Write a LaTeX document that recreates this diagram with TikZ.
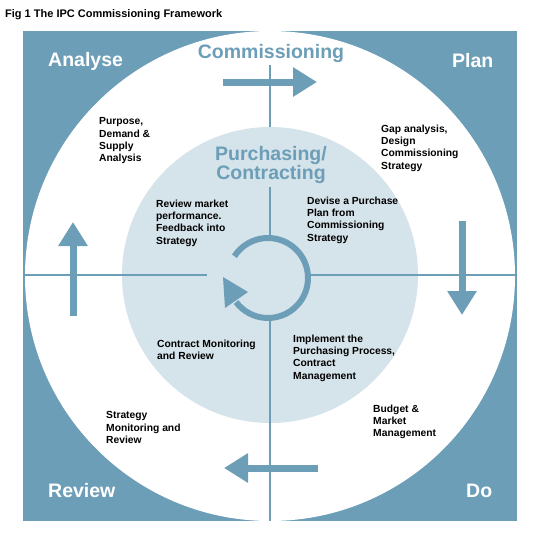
\documentclass[tikz,border=0pt]{standalone}
\usepackage{fontspec}
\setmainfont{Liberation Sans}
\usetikzlibrary{arrows.meta}

\definecolor{ipcblue}{RGB}{108,158,184}
\definecolor{ipclight}{RGB}{213,227,234}

\tikzset{
	phase/.style={text=white,font=\fontsize{19.5}{20}\selectfont\bfseries,inner sep=0pt,anchor=base west},
	heading/.style={text=ipcblue,font=\fontsize{19.5}{18}\selectfont\bfseries,inner sep=0pt,align=center,anchor=north},
	note/.style={text=black,font=\fontsize{10.3}{12.4}\selectfont\bfseries,inner sep=0pt,align=left,anchor=north west},
	axis/.style={draw=ipcblue,line width=2pt},
	bigarrow/.style={draw=ipcblue,line width=7pt,-{Triangle[length=24pt,width=28pt]}},
}

\begin{document}
\begin{tikzpicture}[x=1pt,y=-1pt]
	\useasboundingbox[fill=white] (0,0) rectangle (534,536);
	\coordinate (c) at (270,276);
	\coordinate (ring) at (268,278);
	\fill[ipcblue] (23,31) rectangle (517,521);
	\fill[white] (c) circle (245);
	\fill[ipclight] (270,275) circle (148);

	\draw[axis] (270,65)--(270,127);
	\draw[axis] (270,187)--(270,235);
	\draw[axis] (270,321)--(270,521);
	\draw[axis] (25,275)--(207,275);
	\draw[axis] (311,275)--(516,275);

	\draw[ipcblue,line width=6pt] (ring) ++(-147:40) arc[start angle=-147,end angle=143,radius=40];
	\fill[ipcblue] (223,277)--(248,292)--(225,308)--cycle;

	\coordinate (a1) at (223,82);
	\coordinate (b1) at (317,82);
	\coordinate (a2) at (462,221);
	\coordinate (b2) at (462,315);
	\coordinate (a3) at (318,468);
	\coordinate (b3) at (224,468);
	\coordinate (a4) at (73,316);
	\coordinate (b4) at (73,222);
	\draw[bigarrow] (a1)--(b1);
	\draw[bigarrow] (a2)--(b2);
	\draw[bigarrow] (a3)--(b3);
	\draw[bigarrow] (a4)--(b4);

	\draw node (fig)[anchor=base west,inner sep=0pt,font=\fontsize{11}{12}\selectfont\bfseries] at (5,17) {Fig 1 The IPC Commissioning Framework};
	\draw node (analyse)[phase] at (48,66) {Analyse};
	\draw node (plan)[phase] at (452,67) {Plan};
	\draw node (review)[phase] at (48,497) {Review};
	\draw node (do)[phase] at (466,497) {Do};
	\draw node (comm)[heading,anchor=base] at (271,58) {Commissioning};
	\draw node (purch)[heading] at (271,146) {Purchasing/\\Contracting};

	\draw node (purpose)[note] at (99,117.5) {Purpose,\\Demand \&\\Supply\\Analysis};
	\draw node (gap)[note] at (381,124.5) {Gap analysis,\\Design\\Commissioning\\Strategy};
	\draw node (market)[note] at (156,199.5) {Review market\\performance.\\Feedback into\\Strategy};
	\draw node (devise)[note] at (307,196.5) {Devise a Purchase\\Plan from\\Commissioning\\Strategy};
	\draw node (contract)[note] at (157,339.5) {Contract Monitoring\\and Review};
	\draw node (implement)[note] at (293,334.5) {Implement the\\Purchasing Process,\\Contract\\Management};
	\draw node (budget)[note] at (373,404.5) {Budget \&\\Market\\Management};
	\draw node (strategy)[note] at (106,411.5) {Strategy\\Monitoring and\\Review};
\end{tikzpicture}
\end{document}
